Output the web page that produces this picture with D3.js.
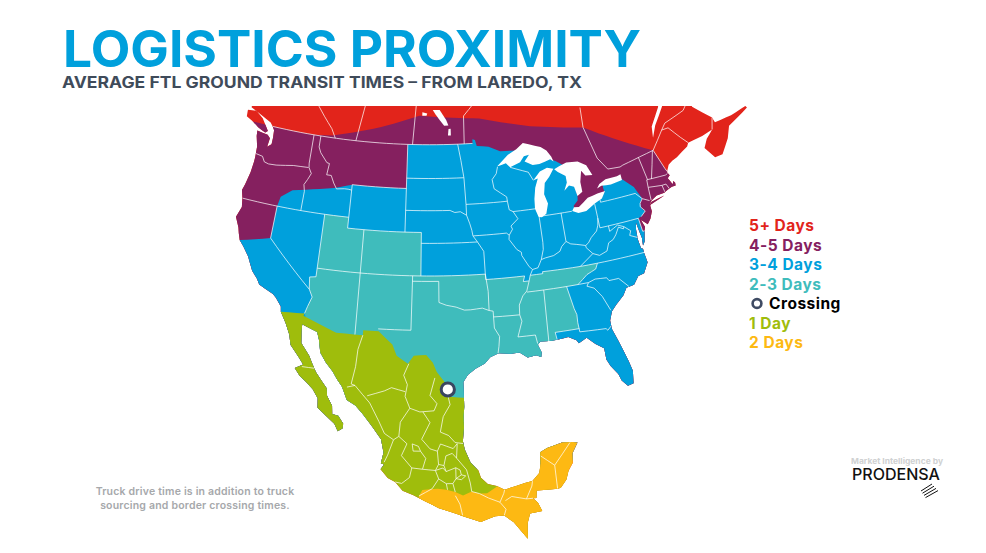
<!DOCTYPE html>
<html>
<head>
<meta charset="utf-8">
<script src="https://cdn.jsdelivr.net/npm/d3@7"></script>
<style>
  html, body { margin: 0; background: #fff; }
  svg { display: block; font-family: Inter, "Open Sans", sans-serif; }
</style>
</head>
<body>
<svg id="chart" width="986" height="553"></svg>
<script>
// Legend rows, top to bottom
const legendLabels = ["5+ Days", "4-5 Days", "3-4 Days", "2-3 Days", "Crossing", "1 Day", "2 Days"];
const legendColors = ["#e2241b", "#85205f", "#00a0dc", "#3fbcbc", "#000000", "#9fbd0c", "#fdb913"];

// All outlines below are [lon, lat]
const coast = [[-126.3,52],[-126.3,50.2],[-124.5,49.7],[-123.2,49.3],[-122.8,49],[-122.5,48.7],[-122.4,48],[-122.4,47.4],[-122.9,47.1],[-122.8,47.9],[-123.2,48.15],[-124.7,48.3],[-124.6,47.8],[-124.2,46.9],[-124.1,45.9],[-124.1,45.5],[-124.2,44.5],[-124.5,43.3],[-124.7,42.7],[-124.4,42],[-124.2,41.2],[-124.6,40.2],[-124,39.3],[-123.8,38.8],[-123.5,38.2],[-122.9,37.7],[-122.6,37.4],[-122.1,36.9],[-121.9,36.6],[-121.3,35.7],[-120.6,35.1],[-120.2,34.6],[-119.5,34.35],[-118.5,34],[-118.1,33.7],[-117.4,33],[-117.3,32.53],
  [-116.6,31.6],[-116,30.6],[-115.7,29.7],[-114.7,28.8],[-114.1,28.2],[-114.9,27.8],[-114.3,27.2],[-113.5,26.7],[-112.8,26.2],[-112.2,25.5],[-112.1,24.7],[-111.2,24.1],[-110.3,23.5],[-109.9,22.9],[-109.45,23.2],[-109.45,23.6],[-110,24.2],[-110.6,24.3],[-110.7,25],[-111.3,25.8],[-111.4,26.4],[-112,27],[-112.7,27.7],[-113.2,28.4],[-113.6,29],[-114.6,30],[-114.75,31],[-114.8,31.7],
  [-114.1,31.5],[-113.1,31.2],[-112.8,30.5],[-112.5,29.4],[-111.8,28.6],[-111,27.9],[-110.5,27.3],[-109.9,26.7],[-109.3,25.6],[-108.4,25.2],[-107.6,24.5],[-106.7,23.6],[-105.7,22.5],[-105.4,21.4],[-105.6,20.5],[-105.3,20.4],[-105.6,20],[-104.9,19.3],[-104.2,19],[-103.5,18.3],[-102.5,17.95],[-101.5,17.5],[-100.2,16.9],[-99.2,16.6],[-98,16.2],[-96.5,15.7],[-95.2,16.1],[-94.4,16.1],[-93.6,15.5],[-92.5,14.1],
  [-92.4,15.3],[-92.1,16.1],[-91,16.2],[-91.3,16.9],[-91.7,17.3],[-91.4,17.3],[-91.3,17.9],[-89.4,17.85],[-89.1,17.9],[-88.5,18.5],[-88.2,19.2],[-87.7,19.8],[-87.6,20.6],[-87,21.4],[-87.4,21.5],[-88.4,21.6],[-89.9,21.3],[-90.6,21],[-90.7,20],[-90.9,19.3],[-91.6,18.7],[-92.3,18.6],[-93.2,18.4],[-94.2,18.2],[-94.9,18.55],[-95.7,18.75],[-96.3,19.3],[-96.5,19.9],[-97.2,20.6],[-97.7,21.7],[-97.85,22.4],[-97.7,23.5],[-97.7,24.5],[-97.6,25.3],[-97.6,26.05],
  [-97.6,26.6],[-97.6,27.4],[-97.1,28],[-96.3,28.5],[-95.3,28.9],[-94.7,29.4],[-93.8,29.7],[-92.5,29.55],[-91.6,29.6],[-90.8,29.1],[-89.9,29.2],[-89.4,29],[-89.3,29.4],[-89.6,30.1],[-89.3,30.35],[-88.1,30.3],[-87.5,30.3],[-86.3,30.4],[-85.5,30],[-85.3,29.7],[-84.4,30.05],[-83.6,29.4],[-82.8,28.9],[-82.8,27.9],[-82.5,27.3],[-81.9,26.5],[-81.7,25.9],[-81.2,25.35],[-80.6,25.45],[-80.4,26.5],[-80.6,27.4],[-80.9,28.4],[-81.2,29.3],[-81.6,30.4],[-81.6,31.2],[-81.2,32],[-80.6,32.5],[-79.6,33.2],[-79.1,33.8],[-78.2,33.9],[-77.5,34.6],[-76.8,34.7],[-76.1,35.6],[-76.2,36.5],[-76.2,36.9],[-76.4,37],[-76.5,37.9],[-76.4,38.8],[-76.2,39.4],[-76.1,38.6],[-76,37.9],[-76.1,37.2],[-75.8,37.5],[-75.5,38.4],[-75.3,38.8],[-75.55,39.5],[-75.3,39.3],[-74.9,38.95],[-74.4,39.4],[-74,40],[-74,40.5],[-73.9,40.75],[-73.7,40.95],[-72.9,41.25],[-71.9,41.3],[-71.4,41.45],[-71.2,41.5],[-70.8,41.6],[-70.3,41.6],[-70.25,41.85],[-70.4,42.05],[-70.6,41.8],[-70.8,42.2],[-70.95,42.45],[-70.6,42.65],[-70.8,43],[-70.3,43.6],[-69.7,43.85],[-69,44],[-68.2,44.3],[-67.3,44.6],[-67,44.9],
  [-66.2,44.95],[-65,45],[-63.5,45.2],[-64.6,44.6],[-65.3,43.9],[-64.5,42.75],[-63.5,42.75],[-62.1,43.9],[-61.3,44.9],[-58.2,45.7],[-58.3,45.9],[-60.5,45.7],[-62.8,45.7],[-62.9,46.2],[-64.8,47.8],[-64.5,49.5],[-67,50],[-68.6,48.8],[-70.3,47.4],[-71.1,46.4],[-70.8,47.4],[-69.1,48.9],[-69,52],[-60,52],[-60,56],[-126.3,56]];
const vancouverIsland = [[-126.7,49.9],[-125.5,50],[-124.4,49.5],[-123.3,48.5],[-123.6,48.3],[-124.7,48.6],[-125.6,49],[-126.6,49.3]];
const longIsland = [[-74,40.6],[-72,41.05],[-72.5,41],[-73.7,40.85]];

// Time zones, painted in this order so each one covers the one before
const purpleZone = [[-130,49],[-117,49],[-114.5,49.2],[-108,50.4],[-102.5,51.6],[-94,51.2],[-87,50],[-79.8,49],[-71.6,45.3],[-70.9,43.4],[-70.7,43.07],[-60,40],[-60,20],[-130,20]];
const blueZone = [[-130,38.2],[-123.5,38.2],[-120,39],[-120,42],[-119.8,42.9],[-118.5,43.7],[-116,44.1],[-113.3,44.5],[-111.05,45],[-104.05,45],[-104.05,49],[-95.15,49],[-95.15,49.38],[-94.8,49.3],[-94.6,48.75],[-93,48.6],[-91.5,48.1],[-89.3,48],[-88.3,48.2],[-84.8,46.7],[-84.3,46.5],[-83.6,46.1],[-83.5,45.9],[-83,45.5],[-82.5,44],[-82.4,43],[-82.5,42.6],[-83.1,42.2],[-83.1,41.9],[-82,41.7],[-79,42.8],[-79.05,43.26],[-79,43.5],[-76.5,43.6],[-75.3,42.6],[-74.7,41.4],[-75.1,41],[-75.1,40.5],[-74.8,40.15],[-75.4,39.8],[-75.79,39.72],[-75.7,38.46],[-75,38.45],[-60,38],[-60,20],[-130,20]];
const tealZone = [[-114.04,42],[-111.05,42],[-111.05,41],[-102.05,41],[-102.05,37],[-94.62,37],[-94.62,36.5],[-90.15,36.5],[-90.37,36],[-89.7,36],[-89.5,36.5],[-88.05,36.5],[-88.05,36.68],[-83.68,36.6],[-81.68,36.6],[-82,36.1],[-83.1,35.75],[-84.3,35],[-85.6,34.98],[-85.18,32.87],[-85,32.3],[-85.05,31.55],[-85,31],[-87.6,31],[-87.5,29],[-95,24],[-110,24],[-114.72,32.72],[-114.5,33.4],[-114.15,34.3],[-114.6,35],[-114.75,36.1],[-114.04,36.2]];
const greenZone = [[-130,32.53],[-117.3,32.53],[-114.72,32.72],[-114.8,32.5],[-111.07,31.33],[-108.2,31.33],[-108.2,31.78],[-106.53,31.78],[-105,30.65],[-104.5,29.65],[-103.3,29],[-102.7,29.7],[-101.4,29.77],[-100.7,29.1],[-100.3,28.3],[-99.3,27.2],[-99.15,26.2],[-98.2,26.1],[-97.6,26.05],[-90,25],[-85,10],[-130,10]];
const yellowZone = [[-102.2,17],[-102,17.9],[-101.7,18.4],[-100.3,18.5],[-99.5,18.4],[-98.7,18.2],[-98,17.9],[-97.2,18.2],[-96.5,18],[-95.8,18],[-94.7,18.6],[-85,25],[-85,10],[-102,10]];

const zoneShapes = [purpleZone, blueZone, tealZone, greenZone, yellowZone];
const zoneColors = ["#85205f", "#00a0dc", "#3fbcbc", "#9fbd0c", "#fdb913"];

const lakes = [
  [[-92.1,46.75],[-90.9,46.95],[-90.4,46.55],[-89,46.9],[-88.4,47.4],[-87.7,47.45],[-88.4,46.9],[-87.4,46.5],[-86.5,46.5],[-85,46.75],[-84.6,46.5],[-84.8,47],[-85.3,47.6],[-86,48],[-88.3,48.6],[-89.3,48.1],[-90.5,47.7]],
  [[-87.6,41.7],[-87.9,42.5],[-87.8,43.4],[-87.5,44.4],[-87,45.2],[-87.6,45.1],[-86.6,45.8],[-85.6,46.05],[-84.8,45.85],[-85.5,45.2],[-86.2,44.7],[-86.5,43.7],[-86.2,42.8],[-86.6,41.9],[-87.2,41.65]],
  [[-84.7,45.8],[-84,46],[-83,46.2],[-81.5,46.1],[-80.5,45.6],[-80,44.6],[-80.9,44.7],[-81.3,45.2],[-81.7,44.2],[-81.7,43.3],[-82.4,43],[-82.6,43.9],[-83.2,44.1],[-83.9,43.7],[-83.4,44.4],[-83.4,45],[-84.3,45.5]],
  [[-83.4,41.75],[-83.1,42.05],[-82.5,42],[-81.2,42.65],[-79.9,42.85],[-78.9,42.9],[-79.5,42.3],[-80.5,42],[-81.7,41.5],[-82.7,41.45]],
  [[-79.8,43.3],[-79.2,43.45],[-78,43.35],[-76.5,43.5],[-76.5,44.05],[-77,43.95],[-78.5,43.95],[-79.4,43.65]],
  [[-100.6,52.1],[-99.6,52.1],[-98.7,51.2],[-98.4,50.7],[-99,50.7],[-100.2,51.7]],
  [[-98.4,50.4],[-98.1,50.4],[-98.1,49.8],[-98.5,49.8]],
  [[-102.1,51.9],[-101.4,51.8],[-101.5,51.6],[-102.1,51.6]]
];

const usLines = [
  [[-124.1,46.25],[-123.2,46.15],[-122.8,45.7],[-122.2,45.6],[-121.2,45.65],[-120,45.8],[-119,45.93],[-117,46]],
  [[-117,49],[-117,46.4],[-116.92,46],[-116.5,45.5],[-116.85,44.9],[-117.2,44.4],[-117,43.8],[-117.03,42]],
  [[-124.4,42],[-111.05,42]],
  [[-116.05,49],[-116.05,48],[-115.7,47.5],[-114.7,46.7],[-114.35,46.65],[-114.5,45.6],[-113.9,45.6],[-113.45,44.95],[-113,44.45],[-112,44.55],[-111.5,44.55],[-111.05,44.5]],
  [[-111.05,45],[-111.05,41]],
  [[-111.05,45],[-104.05,45]],
  [[-104.05,49],[-104.05,41]],
  [[-111.05,41],[-102.05,41]],
  [[-109.05,41],[-109.05,31.33]],
  [[-114.04,42],[-114.04,36.2]],
  [[-114.04,37],[-94.62,37]],
  [[-120,42],[-120,39],[-114.63,35]],
  [[-114.72,32.72],[-114.5,33.4],[-114.15,34.3],[-114.6,35],[-114.75,36.1],[-114.04,36.2]],
  [[-103,37],[-103.06,32],[-106.6,32]],
  [[-103,36.5],[-100,36.5],[-100,34.56],[-99.2,34.3],[-98.1,34.1],[-97.2,33.8],[-96.5,33.8],[-95.2,33.9],[-94.48,33.64]],
  [[-94.62,37],[-94.43,35.4],[-94.48,33.64],[-94.04,33.55],[-94.04,32],[-93.55,31.2],[-93.7,30.3],[-93.85,29.7]],
  [[-94.04,33.02],[-91.17,33]],
  [[-102.05,40],[-95.3,40]],
  [[-102.05,41],[-102.05,37]],
  [[-104.05,43],[-98.5,43],[-97.9,42.8],[-97.2,42.85],[-96.45,42.5]],
  [[-104.05,45.94],[-96.56,45.94]],
  [[-97.2,49],[-96.85,47.5],[-96.56,45.94],[-96.45,43.5],[-96.45,42.5],[-96.1,41.7],[-95.9,41.1],[-95.8,40.58],[-95.3,40],[-94.62,39.1],[-94.62,36.5]],
  [[-96.45,43.5],[-91.22,43.5]],
  [[-95.77,40.58],[-91.73,40.6],[-91.42,40.38]],
  [[-92.05,46.7],[-92.3,46.1],[-92.9,45.6],[-92.75,44.75],[-91.25,43.9],[-91.22,43.5],[-91.1,42.7],[-90.65,42.5],[-90.15,41.8],[-91.1,41.2],[-90.95,40.9],[-91.42,40.38],[-91.5,40],[-90.7,39],[-90.2,38.7],[-90.2,38.4],[-89.5,37.3],[-89.15,37],[-89.5,36.5],[-89.7,36],[-90.1,35.1],[-90.6,34.7],[-91.1,33.9],[-91.17,33],[-91,32.4],[-91.6,31],[-89.73,31],[-89.6,30.2]],
  [[-94.62,36.5],[-90.15,36.5],[-90.37,36],[-89.7,36]],
  [[-90.1,35],[-83.1,35]],
  [[-88.2,35],[-88.4,30.3]],
  [[-85.6,34.98],[-85.18,32.87],[-85,32.3],[-85.05,31.55],[-85,30.7],[-82.2,30.55],[-82.05,30.37],[-81.6,30.7]],
  [[-87.6,31],[-85,31]],
  [[-87.6,31],[-87.5,30.3]],
  [[-83.1,35],[-83.35,34.7],[-82.6,34.4],[-81.9,33.5],[-81.3,32.1]],
  [[-83.1,35],[-82.3,35.2],[-81,35.1],[-80.8,34.8],[-79.7,34.8],[-78.8,33.87]],
  [[-84.3,35],[-83.1,35.75],[-82,36.1],[-81.68,36.59]],
  [[-83.68,36.6],[-76.2,36.55]],
  [[-89.5,36.5],[-88.05,36.5],[-88.05,36.68],[-83.68,36.6],[-81.97,37.54],[-82.6,38.2],[-82.6,38.4]],
  [[-89.15,37],[-88.5,37.1],[-88,37.8],[-87.5,37.9],[-86.5,38],[-85.7,38.3],[-85.4,38.7],[-84.8,39.1],[-84.3,38.8],[-83.6,38.65],[-82.6,38.4],[-82.2,38.6],[-81.8,39],[-81,39.5],[-80.7,40],[-80.52,40.64]],
  [[-81.97,37.54],[-81.25,37.25],[-80.3,37.5],[-79.9,38.2],[-79.3,38.4],[-78.87,38.77],[-78.35,39.4],[-77.83,39.13],[-77.72,39.32],[-77.05,38.8],[-77.3,38.4],[-76.4,38]],
  [[-79.48,39.2],[-79.48,39.72]],
  [[-79.48,39.2],[-78.4,39.6],[-77.72,39.32]],
  [[-80.52,39.72],[-75.79,39.72],[-75.7,38.46],[-75.3,38.45]],
  [[-80.52,42],[-80.52,39.72]],
  [[-79.76,42.27],[-79.76,42],[-75.35,42],[-74.7,41.36],[-75.1,41],[-75.2,40.7],[-74.75,40.2],[-75.4,39.8]],
  [[-74.7,41.36],[-73.9,41]],
  [[-87.53,41.7],[-87.53,39.35],[-87.6,38.7],[-88,37.8]],
  [[-84.8,41.76],[-84.8,39.1]],
  [[-87.2,41.76],[-83.45,41.73]],
  [[-90.65,42.5],[-87.8,42.5]],
  [[-90.4,46.55],[-88.1,45.9],[-87.6,45.1]],
  [[-73.5,42.9],[-73.6,42.2],[-73.7,41]],
  [[-73.6,42.2],[-71.9,42],[-71.8,41.35]],
  [[-71.9,42],[-71.38,42],[-71.15,41.5]],
  [[-73.5,42.9],[-71.1,42.8],[-70.8,42.87]],
  [[-73.7,45.1],[-73.4,42.9]],
  [[-71.7,45.3],[-72.9,42.85]],
  [[-75.9,44.8],[-73.5,45.1],[-71.6,45.3],[-70.9,43.4],[-70.75,43.07]],
  [[-71.6,45.3],[-69.7,46.8],[-68.8,46.8],[-67.7,45.6],[-67,44.9]]
];

const canadaLines = [
  [[-122.8,49],[-95.15,49]],
  [[-120,53.8],[-118,52.4],[-116,50.8],[-114.7,49.8],[-114.05,49]],
  [[-111.2,49],[-110.3,52.5]],
  [[-103.4,49],[-103,52.5]],
  [[-96.3,49],[-96.2,51.5],[-94.6,52.6]],
  [[-79.6,50.8],[-79.8,49],[-78.9,46],[-77.9,44.8],[-76.3,44.7],[-75.9,44.8]],
  [[-69.7,46.8],[-69,47.3],[-66.1,47.8],[-65.2,48.4]],
  [[-62.9,46.2],[-63.5,45.2]]
];

const mexicoLines = [
  [[-114.2,28],[-112.8,28]],
  [[-108.2,31.33],[-108.6,30],[-108.7,28.5],[-109,27],[-108.6,26.9]],
  [[-109.4,26.7],[-108.6,26.9],[-107,25.5],[-106,24],[-105.4,23],[-104.5,22.5],[-105,21.2],[-105.3,20.6]],
  [[-107.3,26.1],[-105.6,26.6],[-104.9,26.9],[-103.5,26.6]],
  [[-103.2,29],[-103.7,28],[-103.3,27.2],[-103.5,26.2],[-103,25.2],[-102,24.9],[-100.6,25]],
  [[-100.5,27.8],[-101,26.3],[-100.3,25.6],[-100.6,25]],
  [[-103,25.2],[-103.9,24],[-104,22.8],[-104.5,22.5]],
  [[-101.7,24.9],[-101,24],[-101.8,22.6],[-101,21.8],[-100.3,21.6],[-100,22.2],[-98.8,21.8],[-98.4,22.2]],
  [[-99.4,27],[-99,25.5],[-99.7,24.5],[-100,23.2],[-99.2,22.9],[-98.6,22.3],[-97.85,22.2]],
  [[-98.4,22.2],[-98.5,21],[-97.6,20],[-97.3,18.9],[-97.2,18.2]],
  [[-104,22.8],[-103.2,22.2],[-103.7,21.2],[-102.7,20.2],[-102.9,19.4],[-103.6,18.9],[-104.2,19]],
  [[-102.7,22.2],[-102.1,22],[-101.9,21.6],[-102.6,21.6],[-102.7,22.2]],
  [[-101.9,21.6],[-101.4,21],[-101.7,20.1],[-100.5,20],[-100.2,20.5],[-100.3,21.6]],
  [[-102.7,20.2],[-101.7,20.1]],
  [[-100.5,20],[-100.2,19.3],[-100.8,18.5],[-102,17.9]],
  [[-100.2,20.5],[-99.7,20.4],[-99.5,21.2],[-98.9,21.4],[-98.5,21]],
  [[-99.7,20.4],[-99.5,19.9],[-98.6,20.2],[-98.2,20],[-98.1,19.6]],
  [[-100.5,20],[-99.8,20.2],[-99.5,19.9]],
  [[-100.2,19.3],[-99.5,18.9],[-98.9,18.9],[-98.6,19.3],[-98.6,20.2]],
  [[-98.6,19.3],[-98.1,19.2],[-97.7,19.5],[-98.1,19.6],[-98.6,19.3]],
  [[-99.5,18.9],[-99.4,18.4]],
  [[-98.9,18.9],[-98.7,18.2]]
];

const southLines = [
  [[-98.7,17.9],[-98.3,17.2],[-98.1,16.3]],
  [[-97.2,18.2],[-96.5,18],[-95.7,17.6],[-94.7,17.2],[-94.2,16.6],[-94.4,16.1]],
  [[-94.7,17.2],[-94.3,17.9],[-94.2,18.2]],
  [[-94.2,17.3],[-93.6,17.6],[-92.3,17.3],[-91.7,17.3]],
  [[-92.3,17.3],[-91.7,18.3],[-91.6,18.7]],
  [[-90.6,20.7],[-89.4,19.8],[-87.7,21.5]],
  [[-89.4,19.8],[-89.4,17.85]]
];

const crossing = [-99.2, 26.8];

const borderLines = [...usLines, ...canadaLines, ...mexicoLines, ...southLines];

const svg = d3.select("#chart");

const projection = d3.geoConicConformal()
  .parallels([30, 45])
  .rotate([101, 0])
  .center([0, 37])
  .scale(628)
  .translate([430, 276]);

// The source map runs a little long in the south
const place = ([lon, lat]) => projection([lon, lat < 30 ? lat - (30 - lat) * 0.06 : lat]);

// Long straight runs follow parallels, so split them before projecting
function densify(points) {
  const out = [];
  points.forEach((p, i) => {
    if (i > 0) {
      const q = points[i - 1];
      const steps = Math.ceil(Math.abs(p[0] - q[0]));
      for (let s = 1; s < steps; s++) {
        out.push([q[0] + (p[0] - q[0]) * s / steps, q[1] + (p[1] - q[1]) * s / steps]);
      }
    }
    out.push(p);
  });
  return out;
}

const line = d3.line().x(d => place(d)[0]).y(d => place(d)[1]);
const shape = points => line(densify(points)) + "Z";

const defs = svg.append("defs");
defs.append("clipPath").attr("id", "land")
  .append("path")
  .attr("d", [coast, vancouverIsland, longIsland].map(shape).join(""));
defs.append("clipPath").attr("id", "top-crop")
  .append("rect").attr("x", 0).attr("y", 106).attr("width", 986).attr("height", 447);

const map = svg.append("g").attr("clip-path", "url(#top-crop)")
  .append("g").attr("clip-path", "url(#land)");

// Base of the map is the 5+ days red
map.append("rect").attr("width", 986).attr("height", 553).attr("fill", legendColors[0]);

map.selectAll("path.zone")
  .data(zoneShapes)
  .join("path")
  .attr("class", "zone")
  .attr("d", shape)
  .attr("fill", (d, i) => zoneColors[i]);

map.selectAll("path.lake")
  .data(lakes)
  .join("path")
  .attr("class", "lake")
  .attr("d", shape)
  .attr("fill", "#fff");

map.selectAll("path.border")
  .data(borderLines)
  .join("path")
  .attr("class", "border")
  .attr("d", d => line(densify(d)))
  .attr("fill", "none")
  .attr("stroke", "#fff")
  .attr("stroke-opacity", 0.8)
  .attr("stroke-width", 0.9)
  .attr("stroke-linejoin", "round");

svg.append("circle")
  .attr("cx", place(crossing)[0])
  .attr("cy", place(crossing)[1])
  .attr("r", 6.6)
  .attr("fill", "#fff")
  .attr("stroke", "#3a4660")
  .attr("stroke-width", 3);

// Headline
svg.append("text")
  .attr("x", 63).attr("y", 67)
  .attr("textLength", 578).attr("lengthAdjust", "spacingAndGlyphs")
  .attr("font-size", 51).attr("font-weight", 700).attr("fill", "#00a0dc")
  .text("LOGISTICS PROXIMITY");
svg.append("text")
  .attr("x", 62).attr("y", 88)
  .attr("textLength", 520).attr("lengthAdjust", "spacingAndGlyphs")
  .attr("font-size", 15.5).attr("font-weight", 700).attr("fill", "#3f4b5a")
  .text("AVERAGE FTL GROUND TRANSIT TIMES – FROM LAREDO, TX");

// Legend
const legendY = d3.scalePoint().domain(legendLabels).range([231, 348]);
const legend = svg.selectAll("g.legend")
  .data(legendLabels)
  .join("g")
  .attr("class", "legend")
  .attr("transform", d => `translate(749,${legendY(d)})`);
legend.append("text")
  .attr("x", d => d === "Crossing" ? 20 : 0)
  .attr("font-size", 15.5).attr("font-weight", 700)
  .attr("letter-spacing", 0.5)
  .attr("fill", (d, i) => legendColors[i])
  .text(d => d);
legend.filter(d => d === "Crossing").append("circle")
  .attr("cx", 8).attr("cy", -5.5).attr("r", 4.4)
  .attr("fill", "#fff").attr("stroke", "#3f4b63").attr("stroke-width", 2.6);

// Footnote
svg.selectAll("text.note")
  .data(["Truck drive time is in addition to truck", "sourcing and border crossing times."])
  .join("text")
  .attr("class", "note")
  .attr("x", 195).attr("y", (d, i) => 495 + i * 14)
  .attr("text-anchor", "middle")
  .attr("font-size", 10.5).attr("font-weight", 600).attr("letter-spacing", 0.2).attr("fill", "#a6a8ab")
  .text(d => d);

// Logo
svg.append("text").attr("x", 851).attr("y", 464)
  .attr("textLength", 92).attr("lengthAdjust", "spacingAndGlyphs")
  .attr("font-size", 8).attr("font-weight", 700).attr("fill", "#cfd1d2")
  .text("Market Intelligence by");
svg.append("text").attr("x", 852).attr("y", 480)
  .attr("textLength", 88).attr("lengthAdjust", "spacingAndGlyphs")
  .attr("font-size", 15.5).attr("font-weight", 500).attr("fill", "#111")
  .text("PRODENSA");
svg.selectAll("line.slash")
  .data([0, 1, 2, 3])
  .join("line")
  .attr("class", "slash")
  .attr("x1", d => 921 + d * 1.5).attr("y1", d => 491 + d * 2.2)
  .attr("x2", d => 932 + d * 2).attr("y2", d => 484 + d * 2.2)
  .attr("stroke", "#111").attr("stroke-width", 1);
</script>
</body>
</html>
